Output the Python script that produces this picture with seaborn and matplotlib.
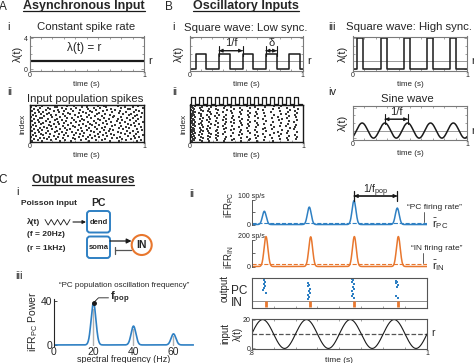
import numpy as np
import pandas as pd
import seaborn as sns
import matplotlib.pyplot as plt
from matplotlib.patches import FancyBboxPatch, Circle

# ---------------------------------------------------------
# values
# ---------------------------------------------------------
rate_r = 1.0                                    # mean input rate, panels A/B
low_on = [0.055, 0.262, 0.470, 0.676, 0.882]    # B-i: onsets of high phase
low_width, low_high = 0.095, 2.0
bii_on = [0.010, 0.080, 0.150, 0.220, 0.290, 0.360, 0.430,
          0.500, 0.570, 0.640, 0.710, 0.780, 0.850, 0.920]
bii_width = 0.035
high_on = [0.038, 0.245, 0.450, 0.652, 0.850]   # B-iii: narrow pulses
high_width, high_high = 0.05, 4.0
sine_f, sine_crest = 5.0, 0.08                  # B-iv

# A-ii: spike times per input index (asynchronous)
async_spikes = [
    [.02, .11, .27, .36, .52, .70, .78, .94], [.07, .19, .31, .45, .58, .63, .84, .97],
    [.04, .15, .23, .40, .49, .66, .81, .89], [.09, .13, .29, .38, .55, .72, .76, .92],
    [.01, .17, .25, .43, .51, .61, .79, .96], [.06, .21, .34, .47, .57, .68, .86, .91],
    [.03, .12, .30, .39, .53, .64, .74, .99], [.10, .18, .26, .44, .60, .71, .83, .93],
    [.05, .14, .32, .41, .48, .67, .80, .88], [.08, .22, .28, .37, .56, .62, .77, .95],
    [.02, .16, .24, .46, .54, .69, .85, .90], [.07, .11, .33, .42, .50, .65, .73, .98],
    [.04, .20, .27, .35, .59, .70, .82, .94], [.09, .15, .31, .45, .52, .63, .78, .87],
    [.01, .13, .23, .40, .57, .66, .84, .97], [.06, .19, .29, .38, .49, .72, .80, .92],
    [.03, .17, .34, .43, .55, .61, .75, .89], [.10, .21, .26, .47, .53, .68, .86, .96],
    [.05, .12, .30, .36, .58, .64, .79, .91], [.08, .18, .25, .41, .51, .71, .83, .99],
    [.02, .14, .32, .44, .56, .67, .76, .93], [.07, .22, .28, .39, .48, .62, .81, .88],
    [.04, .16, .24, .46, .60, .69, .77, .95], [.09, .11, .33, .37, .54, .65, .85, .90],
    [.01, .20, .27, .42, .50, .73, .80, .97], [.06, .13, .31, .45, .57, .63, .74, .92],
    [.03, .19, .23, .40, .52, .70, .87, .94], [.10, .15, .29, .35, .59, .66, .82, .89],
    [.05, .17, .34, .43, .49, .61, .78, .98], [.08, .12, .26, .47, .55, .72, .84, .91],
    [.02, .21, .30, .38, .53, .64, .79, .96], [.07, .14, .25, .44, .58, .68, .75, .93],
    [.04, .18, .32, .36, .51, .71, .86, .88], [.09, .16, .28, .41, .56, .62, .80, .99],
    [.01, .22, .24, .46, .50, .67, .83, .90], [.06, .11, .33, .39, .60, .65, .77, .95],
]
# B-ii: spike times per input index (low synchrony square wave)
lowsync_spikes = [
    [.014, .102, .171, .298, .447, .591, .733], [.033, .088, .241, .372, .519, .657, .871],
    [.025, .163, .306, .389, .528, .794, .938], [.041, .111, .226, .455, .583, .722, .862],
    [.018, .094, .179, .317, .508, .668, .945], [.037, .156, .249, .366, .601, .786, .879],
    [.012, .084, .233, .438, .574, .711, .926], [.029, .107, .183, .294, .461, .648, .808],
    [.044, .168, .252, .381, .531, .739, .857], [.020, .091, .311, .442, .596, .783, .950],
    [.035, .113, .157, .226, .513, .671, .869], [.016, .099, .238, .362, .452, .579, .811],
    [.039, .152, .301, .393, .642, .727, .923], [.027, .086, .176, .321, .505, .662, .884],
    [.011, .114, .244, .435, .588, .744, .931], [.043, .161, .291, .374, .526, .797, .853],
    [.023, .104, .222, .459, .603, .716, .941], [.031, .081, .185, .308, .517, .652, .866],
    [.015, .095, .247, .387, .449, .589, .802], [.040, .171, .318, .364, .534, .735, .920],
    [.019, .109, .229, .441, .576, .671, .878], [.034, .154, .296, .392, .511, .789, .947],
    [.026, .087, .181, .323, .463, .644, .815], [.013, .112, .240, .369, .598, .725, .858],
    [.042, .165, .302, .432, .522, .781, .936], [.022, .093, .224, .384, .571, .668, .873],
    [.036, .151, .254, .316, .509, .739, .925], [.017, .101, .187, .451, .594, .805, .851],
    [.030, .083, .236, .376, .529, .659, .943], [.045, .173, .293, .439, .584, .718, .867],
    [.024, .112, .158, .361, .515, .793, .929], [.010, .098, .245, .327, .457, .649, .882],
    [.038, .167, .231, .391, .602, .731, .954], [.028, .089, .304, .446, .533, .786, .861],
    [.015, .110, .182, .367, .573, .664, .924], [.041, .153, .227, .313, .503, .742, .809],
]

# C-iii: power spectrum peaks
spec_freqs = [20, 40, 60]
spec_heights = [38, 17, 10]
spec_sigma = 1.2

# C-ii: instantaneous firing rates (sp/s)
pc_peak_t = [0.8144, 0.8657, 0.9167, 0.9661]
pc_peak_h = [54, 71, 97, 67]
pc_mean = 8
in_peak_t = [0.8163, 0.8673, 0.9171, 0.9673]
in_peak_h = [226, 224, 226, 226]
in_mean = 20
peak_sigma = 0.0022

# C-ii: output raster
pc_spk_t = [0.8142, 0.8150, 0.8138, 0.8156, 0.8146, 0.8131, 0.8160,
            0.8638, 0.8655, 0.8644, 0.8662, 0.8650, 0.8670, 0.8641, 0.8659, 0.8648,
            0.9148, 0.9156, 0.9140, 0.9162, 0.9152, 0.9168, 0.9145, 0.9158, 0.9150, 0.9164,
            0.9652, 0.9660, 0.9646, 0.9664, 0.9656, 0.9642, 0.9668]
pc_spk_y = [92, 86, 80, 74, 65, 58, 50,
            82, 77, 71, 64, 57, 50, 43, 36, 30,
            97, 91, 85, 78, 70, 62, 55, 46, 38, 31,
            90, 86, 81, 76, 70, 40, 33]
in_spk_t = [0.8163, 0.8665, 0.9170, 0.9666]

# C-ii: input drive
input_mean, input_f, input_crest = 10.0, 20.0, 0.8125

# ---------------------------------------------------------
sns.set_theme(style="ticks")
plt.rcParams['font.family'] = ['Liberation Sans', 'DejaVu Sans']
plt.rcParams['mathtext.fontset'] = 'custom'
plt.rcParams['mathtext.rm'] = 'Liberation Sans'
plt.rcParams['mathtext.bf'] = 'Liberation Sans:bold'
plt.rcParams['mathtext.it'] = 'Liberation Sans:italic'

W, H = 474, 363
fig = plt.figure(figsize=(W / 100, H / 100), dpi=100)
GRAY = '#7a7a7a'
BLUE = '#2f80c3'
ORANGE = '#e8772e'


def px_axes(x0, y0, x1, y1):
    return fig.add_axes([x0 / W, 1 - y1 / H, (x1 - x0) / W, (y1 - y0) / H])


def boxed(ax, xminor, yminor=None, color=GRAY, lw=0.8):
    for s in ax.spines.values():
        s.set_visible(True)
        s.set_color(color)
        s.set_linewidth(lw)
    ax.tick_params(which='both', direction='in', top=True, right=True,
                   color=GRAY, width=0.5, labelsize=5, pad=1)
    ax.tick_params(which='major', length=2)
    ax.tick_params(which='minor', length=1.5)
    ax.set_xticks(xminor, minor=True)
    if yminor is not None:
        ax.set_yticks(yminor, minor=True)


def square_wave(onsets, width, high):
    t, lam = [0.0], [0.0]
    for o in onsets:
        t += [o, o, o + width, o + width]
        lam += [0.0, high, high, 0.0]
    t.append(1.0)
    lam.append(0.0)
    return pd.DataFrame({'t': t, 'lam': lam})


def raster_frame(rows):
    return pd.DataFrame([(t, i) for i, row in enumerate(rows) for t in row],
                        columns=['t', 'idx'])


def span_arrow(ax, x0, x1, y, label, ty):
    ax.annotate('', xy=(x0, y), xytext=(x1, y), annotation_clip=False,
                arrowprops=dict(arrowstyle='<|-|>', color='k', lw=0.8,
                                shrinkA=0, shrinkB=0, mutation_scale=5))
    ax.annotate('', xy=(x0, y), xytext=(x1, y), annotation_clip=False,
                arrowprops=dict(arrowstyle='|-|,widthA=0.35,widthB=0.35', color='k',
                                lw=0.8, shrinkA=0, shrinkB=0, mutation_scale=10))
    ax.text((x0 + x1) / 2, ty, label, ha='center', va='center', fontsize=8)


def lam_panel(ax, ylabels=False):
    ax.set_xlim(0, 1)
    ax.set_ylim(-0.25, 4.25)
    ax.set_xticks([0, 1])
    ax.set_xticklabels(['0', '1'])
    ax.set_yticks([0, 4])
    ax.set_yticklabels(['0', '4'] if ylabels else [])
    boxed(ax, np.arange(0.1, 1, 0.1), [1, 2, 3])
    ax.set_xlabel('time (s)', fontsize=5.8, labelpad=1)
    ax.set_ylabel('λ(t)', fontsize=8, labelpad=1 if ylabels else 3)
    ax.text(1.04, rate_r, 'r', ha='left', va='center', fontsize=8)


def raster_panel(ax, df, nrows):
    sns.scatterplot(data=df, x='t', y='idx', color='#3a3a3a', s=0.55, marker='s',
                    linewidth=0, ax=ax)
    ax.set_xlim(0, 1)
    ax.set_ylim(-1, nrows)
    ax.set_xticks([0, 1])
    ax.set_xticklabels(['0', '1'])
    ax.set_yticks([])
    boxed(ax, np.arange(0.1, 1, 0.1), color='k', lw=1.0)
    ax.tick_params(which='both', right=False, top=False)
    ax.set_xlabel('time (s)', fontsize=5.8, labelpad=1)
    ax.set_ylabel('index', fontsize=6, labelpad=2)


# ---- A-i constant rate
ax = px_axes(29.5, 36.5, 144, 71)
sns.lineplot(x=[0, 1], y=[rate_r, rate_r], color='k', lw=1.6, ax=ax)
lam_panel(ax, ylabels=True)
ax.text(0.48, 2.75, 'λ(t) = r', ha='center', va='center', fontsize=8.5)

# ---- A-ii asynchronous raster
ax = px_axes(29.5, 105, 144, 142)
raster_panel(ax, raster_frame(async_spikes), len(async_spikes))

# ---- B-i low sync square wave
ax = px_axes(189.5, 36.5, 302.5, 71)
ax.axhline(rate_r, color='#9a9a9a', lw=0.7)
sns.lineplot(data=square_wave(low_on, low_width, low_high), x='t', y='lam',
             sort=False, estimator=None, color='k', lw=1.1, ax=ax)
lam_panel(ax)
span_arrow(ax, low_on[1], low_on[2], 2.4, '1/f', 3.35)
span_arrow(ax, low_on[3], low_on[3] + low_width, 2.4, 'δ', 3.35)

# ---- B-ii low sync raster with drive on top
ax = px_axes(190, 105, 303, 142)
raster_panel(ax, raster_frame(lowsync_spikes), len(lowsync_spikes))
ax = px_axes(190, 96, 303, 104.5)
sns.lineplot(data=square_wave(bii_on, bii_width, 1.0), x='t', y='lam',
             sort=False, estimator=None, color='k', lw=0.9, ax=ax)
ax.set_xlim(0, 1)
ax.set_ylim(-0.1, 1.1)
ax.axis('off')

# ---- B-iii high sync square wave
ax = px_axes(353, 36.5, 467, 71)
ax.axhline(rate_r, color='#9a9a9a', lw=0.7)
sns.lineplot(data=square_wave(high_on, high_width, high_high), x='t', y='lam',
             sort=False, estimator=None, color='k', lw=1.1, ax=ax)
lam_panel(ax)

# ---- B-iv sine wave
ax = px_axes(353, 106, 467, 140)
ax.axhline(rate_r, color='#9a9a9a', lw=0.7)
tt = np.linspace(0, 1, 600)
sns.lineplot(x=tt, y=rate_r + rate_r * np.cos(2 * np.pi * sine_f * (tt - sine_crest)),
             color='k', lw=1.1, ax=ax)
lam_panel(ax)
span_arrow(ax, sine_crest + 1 / sine_f, sine_crest + 2 / sine_f, 2.5, '1/f', 3.5)

# ---- C-iii power spectrum
ax = px_axes(53.5, 298.5, 193.5, 345.5)
ff = np.linspace(0, 70, 701)
power = sum(h * np.exp(-(ff - f0) ** 2 / (2 * spec_sigma ** 2))
            for f0, h in zip(spec_freqs, spec_heights))
for f0, h in zip(spec_freqs, spec_heights):
    ax.plot([f0 - 0.3, f0 - 0.3], [0, h * 0.85], color='#b0b0b0', lw=1.0)
sns.lineplot(x=ff, y=power, color=BLUE, lw=1.2, ax=ax)
ax.set_xlim(0, 70)
ax.set_ylim(-0.5, 41.9)
ax.set_xticks([0, 20, 40, 60])
ax.set_yticks([0, 40])
for s in ['top', 'right', 'bottom']:
    ax.spines[s].set_visible(False)
ax.spines['left'].set_linewidth(0.8)
ax.tick_params(axis='y', direction='in', length=2, width=0.6, labelsize=7.5, pad=1)
ax.tick_params(axis='x', length=0, labelsize=7.5, pad=1)
ax.set_xlabel('spectral frequency (Hz)', fontsize=6.5, labelpad=-1)
ax.set_ylabel('')
pk_f, pk_h = spec_freqs[0], spec_heights[0]
ax.plot([pk_f, pk_f + 2.5, pk_f + 7.5], [pk_h, pk_h + 4.5, pk_h + 4.5],
        color='k', lw=0.6, clip_on=False)
ax.plot([pk_f], [pk_h], 'o', color='k', ms=2.5, clip_on=False)
ax.text(pk_f + 8, pk_h + 4.5, r'$\mathbf{f}_{\mathbf{pop}}$', ha='left', va='center',
        fontsize=8)

# ---- C-ii firing rates
tg = np.linspace(0.8, 1.0, 1000)


def ifr(times, heights):
    return sum(h * np.exp(-(tg - t0) ** 2 / (2 * peak_sigma ** 2))
               for t0, h in zip(times, heights))


def rate_panel(ax, times, heights, mean, color, top, ylim):
    sns.lineplot(x=tg, y=ifr(times, heights), color=color, lw=1.1, ax=ax)
    ax.axhline(mean, color=color, ls='--', lw=0.8)
    ax.set_xlim(0.8, 1.0)
    ax.set_ylim(*ylim)
    for s in ['top', 'right', 'bottom']:
        ax.spines[s].set_visible(False)
    ax.spines['left'].set_bounds(0, top)
    ax.spines['left'].set_color('#555555')
    ax.spines['left'].set_linewidth(0.7)
    ax.set_yticks([0, top / 2, top])
    ax.set_yticklabels(['0', '', ''])
    ax.tick_params(axis='y', direction='in', length=2, width=0.5, labelsize=5, pad=1)
    ax.tick_params(axis='x', bottom=False, labelbottom=False)
    ax.text(0.8, top, f'{top} sp/s', ha='center', va='bottom', fontsize=5)


ax_pc = px_axes(251.7, 197, 427, 227)
rate_panel(ax_pc, pc_peak_t, pc_peak_h, pc_mean, BLUE, 100, (-10, 112))
ax_pc.annotate('', xy=(pc_peak_t[2], 116), xytext=(pc_peak_t[3], 116),
               annotation_clip=False,
               arrowprops=dict(arrowstyle='<|-|>', color='k', lw=0.9,
                               shrinkA=0, shrinkB=0, mutation_scale=5))
ax_pc.annotate('', xy=(pc_peak_t[2], 116), xytext=(pc_peak_t[3], 116),
               annotation_clip=False,
               arrowprops=dict(arrowstyle='|-|,widthA=0.35,widthB=0.35', color='k',
                               lw=0.9, shrinkA=0, shrinkB=0, mutation_scale=10))
ax_pc.text((pc_peak_t[2] + pc_peak_t[3]) / 2, 137, r'1/f$_{\mathrm{pop}}$',
           ha='center', va='center', fontsize=7.5)

ax_in = px_axes(251.7, 234, 427, 268)
rate_panel(ax_in, in_peak_t, in_peak_h, in_mean, ORANGE, 200, (-11.3, 245.3))

# ---- C-ii output raster
ax = px_axes(251.7, 277.7, 427, 307.7)
ax.axhline(22, color=GRAY, lw=0.6)
sns.scatterplot(x=pc_spk_t, y=pc_spk_y, color=BLUE, s=3, marker='s', linewidth=0, ax=ax)
ax.vlines(in_spk_t, 1, 21, color=ORANGE, lw=2)
ax.set_xlim(0.8, 1.0)
ax.set_ylim(0, 100)
ax.set_xticks([0.8, 1.0])
ax.set_xticklabels([])
ax.set_yticks([])
boxed(ax, np.arange(0.825, 1.0, 0.025), color='#555555', lw=0.8)
ax.tick_params(which='both', top=False, right=False)

# ---- C-ii input drive
ax = px_axes(251.7, 319, 427, 349)
ax.axhline(input_mean, color='#555555', ls='--', lw=0.9)
sns.lineplot(x=tg, y=input_mean * (1 + np.cos(2 * np.pi * input_f * (tg - input_crest))),
             color='k', lw=0.8, ax=ax)
ax.set_xlim(0.8, 1.0)
ax.set_ylim(-0.4, 20.4)
ax.set_xticks([0.8, 1.0])
ax.set_xticklabels(['.8', '1'])
ax.set_yticks([0, 20])
boxed(ax, np.arange(0.825, 1.0, 0.025), color='#555555', lw=0.8)
ax.tick_params(which='both', right=False)
ax.set_xlabel('time (s)', fontsize=6, labelpad=0)

# ---------------------------------------------------------
# overlay for labels, titles and the circuit sketch (pixel coordinates)
# ---------------------------------------------------------
ov = fig.add_axes([0, 0, 1, 1], zorder=10)
ov.set_xlim(0, W)
ov.set_ylim(H, 0)
ov.axis('off')
ov.patch.set_visible(False)
renderer = fig.canvas.get_renderer()


def title_underlined(x, y, s):
    t = ov.text(x, y, s, ha='center', va='center', fontsize=9, fontweight='bold')
    bb = t.get_window_extent(renderer=renderer)
    (x0, yb), (x1, _) = ov.transData.inverted().transform([[bb.x0, bb.y0], [bb.x1, bb.y1]])
    ov.plot([x0, x1], [yb - 1.3, yb - 1.3], color='k', lw=0.9)


for lx, ly, s in [(3, 7, 'A'), (169, 7, 'B'), (3, 180, 'C')]:
    ov.text(lx, ly, s, ha='center', va='center', fontsize=8.5)
title_underlined(84, 6.5, 'Asynchronous Input')
title_underlined(246, 6.5, 'Oscillatory Inputs')
title_underlined(83, 180, 'Output measures')

for lx, ly, s in [(9, 27, 'i'), (10, 92, 'ii'), (174, 27, 'i'), (175, 92, 'ii'),
                  (332, 27, 'iii'), (332, 92, 'iv'), (18, 192, 'i'), (192, 194, 'ii'),
                  (19, 276, 'iii')]:
    ov.text(lx, ly, s, ha='center', va='center', fontsize=8)

for cx, cy, s in [(86.5, 27.5, 'Constant spike rate'), (85, 98.5, 'Input population spikes'),
                  (246, 28, 'Square wave: Low sync.'), (409.5, 27.5, 'Square wave: High sync.'),
                  (407.5, 98.5, 'Sine wave')]:
    ov.text(cx, cy, s, ha='center', va='center', fontsize=8.2)

# circuit sketch
ov.text(21.5, 203.5, 'Poisson input', ha='left', va='center', fontsize=6, fontweight='bold')
ov.text(27, 222, 'λ(t)', ha='left', va='center', fontsize=6, fontweight='bold')
ov.plot(np.linspace(45, 70, 9), [219.5, 225] * 4 + [219.5], color='k', lw=0.6)
ov.annotate('', xy=(86, 222), xytext=(73, 222),
            arrowprops=dict(arrowstyle='-|>', color='k', lw=0.8, mutation_scale=5,
                            shrinkA=0, shrinkB=0))
ov.text(27, 235, '(f = 20Hz)', ha='left', va='center', fontsize=6, fontweight='bold')
ov.text(27, 248, '(r = 1kHz)', ha='left', va='center', fontsize=6, fontweight='bold')
ov.text(98.5, 203, 'PC', ha='center', va='center', fontsize=7.5, fontweight='bold')
for y0, s in [(211, 'dend'), (236.5, 'soma')]:
    ov.add_patch(FancyBboxPatch((87, y0), 23, 21.5, boxstyle='round,pad=0,rounding_size=3',
                                facecolor='white', edgecolor=BLUE, lw=1.4))
    ov.text(98.5, y0 + 11, s, ha='center', va='center', fontsize=5.5, fontweight='bold')
ov.add_patch(Circle((141.7, 245), 10, facecolor='white', edgecolor=ORANGE, lw=1.5))
ov.text(141.7, 245.5, 'IN', ha='center', va='center', fontsize=7.5, fontweight='bold')
ov.annotate('', xy=(131.5, 241), xytext=(110, 241),
            arrowprops=dict(arrowstyle='-|>', color='k', lw=0.9, mutation_scale=7,
                            shrinkA=0, shrinkB=0))
ov.plot([131.5, 115.5], [250, 250], color='#555555', lw=0.9)
ov.plot([115.5, 115.5], [246.5, 253.5], color='#555555', lw=0.9)

# C-iii texts
ov.text(124, 285.5, '\u201cPC population oscillation frequency\u201d', ha='center',
        va='center', fontsize=5.8)
ov.text(33, 322, r'iFR$_{\mathrm{PC}}$ Power', ha='center', va='center', rotation=90,
        fontsize=7.5)

# C-ii texts
ov.text(229, 205, r'iFR$_{\mathrm{PC}}$', ha='center', va='center', rotation=90, fontsize=7)
ov.text(229, 257.5, r'iFR$_{\mathrm{IN}}$', ha='center', va='center', rotation=90, fontsize=7)
ov.text(225, 289, 'output', ha='center', va='center', rotation=90, fontsize=7)
ov.text(225, 333, 'input', ha='center', va='center', rotation=90, fontsize=7)
ov.text(238, 334, 'λ(t)', ha='center', va='center', rotation=90, fontsize=7)
ov.text(231, 290.5, 'PC', ha='left', va='center', fontsize=8.5)
ov.text(231, 302.5, 'IN', ha='left', va='center', fontsize=8.5)
ov.text(462, 207.5, '\u201cPC firing rate\u201d', ha='right', va='center', fontsize=6)
ov.text(462, 248.5, '\u201cIN firing rate\u201d', ha='right', va='center', fontsize=6)
ov.plot([424, 424], [211.5, 222], color='#444444', lw=0.6)
ov.plot([422.7, 422.7], [252.5, 263], color='#444444', lw=0.6)
ov.text(432, 224, r'$\bar{\mathrm{r}}_{\mathrm{PC}}$', ha='left', va='center', fontsize=8)
ov.text(432, 265.5, r'$\bar{\mathrm{r}}_{\mathrm{IN}}$', ha='left', va='center', fontsize=8)
ov.text(431, 333.5, 'r', ha='left', va='center', fontsize=7.5)

fig.savefig('out.png', dpi=100)
